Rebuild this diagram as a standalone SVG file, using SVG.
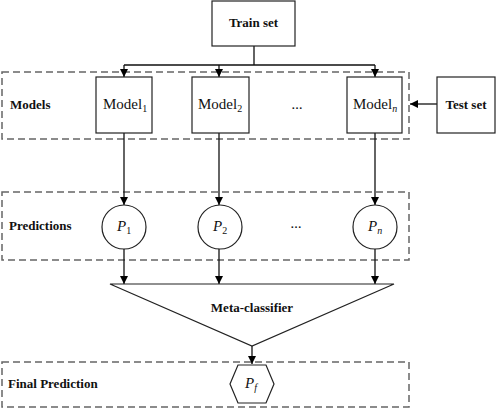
<svg xmlns="http://www.w3.org/2000/svg" width="496" height="408" viewBox="0 0 496 408">
<defs>
<marker id="ah" markerWidth="8" markerHeight="8" viewBox="0 0 8 8" refX="8" refY="4" orient="auto" markerUnits="userSpaceOnUse">
<path d="M0,0 L8,4 L0,8 z" fill="#000"/>
</marker>
<style>
.box{fill:#fff;stroke:#222;stroke-width:1.2}
.dash{fill:none;stroke:#666;stroke-width:1.5;stroke-dasharray:7 4}
.ln{fill:none;stroke:#111;stroke-width:1.3}
.lbl{font-family:"Liberation Serif",serif;font-weight:bold;font-size:13px;fill:#111}
.mdl{font-family:"Liberation Serif",serif;font-size:15px;fill:#111}
.pp{font-family:"Liberation Serif",serif;font-size:15px;font-style:italic;fill:#111}
.sub{font-size:10px}
.dots{font-family:"Liberation Serif",serif;font-size:11px;font-weight:bold;fill:#111}
</style>
</defs>
<rect width="496" height="408" fill="#fff"/>
<g id="groups">
<rect class="dash" x="2" y="72" width="407" height="67"/>
<rect class="dash" x="2" y="192" width="407" height="68"/>
<rect class="dash" x="2" y="362" width="407" height="45"/>
<text class="lbl" x="10" y="109">Models</text>
<text class="lbl" x="9" y="230">Predictions</text>
<text class="lbl" x="8" y="388">Final Prediction</text>
</g>
<g id="connectors">
<path class="ln" d="M254,46 V65 M124,65 H375"/>
<path class="ln" d="M124,65 V77" marker-end="url(#ah)"/>
<path class="ln" d="M219,65 V77" marker-end="url(#ah)"/>
<path class="ln" d="M375,65 V77" marker-end="url(#ah)"/>
<path class="ln" d="M437,104 H410" marker-end="url(#ah)"/>
<path class="ln" d="M124,133 V205" marker-end="url(#ah)"/>
<path class="ln" d="M219,133 V205" marker-end="url(#ah)"/>
<path class="ln" d="M375,133 V205" marker-end="url(#ah)"/>
<path class="ln" d="M124,248 V284" marker-end="url(#ah)"/>
<path class="ln" d="M219,248 V284" marker-end="url(#ah)"/>
<path class="ln" d="M375,248 V284" marker-end="url(#ah)"/>
<path class="ln" d="M252,346 V364" marker-end="url(#ah)"/>
</g>
<g id="train-set">
<rect class="box" x="212" y="1" width="83" height="45"/>
<text class="lbl" x="253.5" y="27" text-anchor="middle">Train set</text>
</g>
<g id="test-set">
<rect class="box" x="437" y="77" width="58" height="56"/>
<text class="lbl" x="466" y="109" text-anchor="middle">Test set</text>
</g>
<g id="model-1">
<rect class="box" x="96" y="77" width="56" height="56"/>
<text class="mdl" x="103" y="109">Model<tspan class="sub" dy="3">1</tspan></text>
</g>
<g id="model-2">
<rect class="box" x="192" y="77" width="57" height="56"/>
<text class="mdl" x="198" y="109">Model<tspan class="sub" dy="3">2</tspan></text>
</g>
<g id="model-n">
<rect class="box" x="347" y="77" width="55" height="56"/>
<text class="mdl" x="353" y="109">Model<tspan class="sub" dy="3" font-style="italic">n</tspan></text>
</g>
<g id="dots-models"><text class="dots" x="297" y="109" text-anchor="middle">…</text></g>
<g id="p-1">
<circle class="box" cx="124" cy="227" r="22"/>
<text class="pp" x="117" y="231">P<tspan class="sub" dy="3" font-style="normal">1</tspan></text>
</g>
<g id="p-2">
<circle class="box" cx="220" cy="227" r="22"/>
<text class="pp" x="213" y="231">P<tspan class="sub" dy="3" font-style="normal">2</tspan></text>
</g>
<g id="p-n">
<circle class="box" cx="375" cy="227" r="22"/>
<text class="pp" x="368" y="231">P<tspan class="sub" dy="3">n</tspan></text>
</g>
<g id="dots-preds"><text class="dots" x="296" y="228" text-anchor="middle">…</text></g>
<g id="meta-classifier">
<polygon class="box" points="110,284 394,284 252,346"/>
<text class="lbl" x="252" y="312" text-anchor="middle">Meta-classifier</text>
</g>
<g id="p-f">
<polygon class="box" points="238,365 266,365 274,384 266,403 238,403 230,384"/>
<text class="pp" x="245" y="388">P<tspan class="sub" dy="3">f</tspan></text>
</g>
</svg>
